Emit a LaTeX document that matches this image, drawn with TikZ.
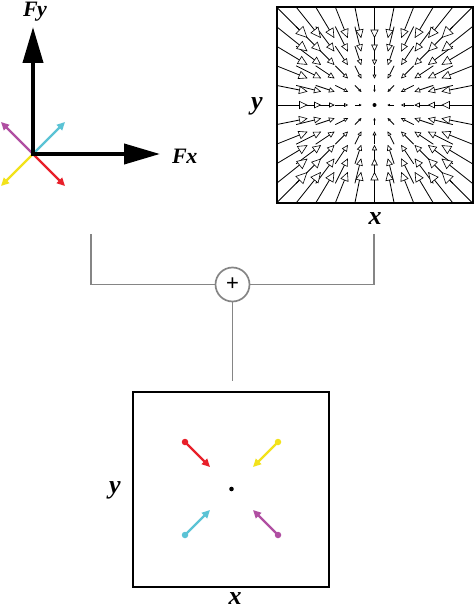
\documentclass[tikz,border=0pt]{standalone}
\usepackage{fontspec}
\setmainfont{Liberation Serif}
\setsansfont{Liberation Sans}
\usetikzlibrary{arrows.meta}

\definecolor{fred}{HTML}{E8202A}
\definecolor{fyellow}{HTML}{F2E21B}
\definecolor{fcyan}{HTML}{5BC3D5}
\definecolor{fmagenta}{HTML}{B04FA2}
\definecolor{wiregray}{HTML}{858585}

\tikzset{
  axis/.style={line width=4pt, -{Triangle[length=36pt,width=20pt]}},
  force/.style={line width=2.2pt, -{Triangle[length=8pt,width=7.5pt]}},
  lbl/.style={font=\fontsize{22}{22}\selectfont\bfseries\itshape, inner sep=0pt},
  axlbl/.style={font=\fontsize{26}{26}\selectfont\bfseries\itshape, inner sep=0pt},
  wire/.style={draw=wiregray, line width=1.7pt},
  panel/.style={draw, line width=2pt, inner sep=0pt, minimum width=196pt, minimum height=196pt},
  startdot/.style={circle, inner sep=0pt, minimum size=6.5pt},
}

\begin{document}
\begin{tikzpicture}[x=1pt,y=-1pt]
  \useasboundingbox (0,0) rectangle (474,612);

  % force directions
  \coordinate (O) at (33,154);
  \coordinate (tipM) at (1,122);
  \coordinate (tipC) at (65,122);
  \coordinate (tipY) at (1,186);
  \coordinate (tipR) at (65,186);
  \draw[force, fmagenta] (O) -- (tipM);
  \draw[force, fcyan] (O) -- (tipC);
  \draw[force, fyellow] (O) -- (tipY);
  \draw[force, fred] (O) -- (tipR);

  % axes
  \coordinate (tipFy) at (33,27);
  \coordinate (tipFx) at (160,154);
  \draw[axis] ([xshift=-2pt]O) -- (tipFx);
  \draw[axis] ([yshift=2pt]O) -- (tipFy);
  \node[lbl, anchor=base] (Fy) at (35,17) {F\kern-0.5pt y};
  \node[lbl, anchor=west] (Fx) at (172,156) {F\kern-0.5pt x};

  % field panel
  \node[panel] (field) at (374.5,105) {};
  \begin{scope}[shift={(field.center)}]
    \clip (-98,-98) rectangle (98,98);
    \foreach \i in {-5,...,5}{
      \foreach \j in {-5,...,5}{
        \ifnum\numexpr\i*\i+\j*\j\relax>0
          \draw[line width=0.8pt] ({19.6*(\i)},{19.6*(\j)}) -- ({13.52*(\i)},{13.52*(\j)});
        \fi
      }
    }
    \foreach \i in {-5,...,5}{
      \foreach \j in {-5,...,5}{
        \ifnum\numexpr\i*\i+\j*\j\relax>0
          \filldraw[fill=white, line width=0.6pt]
            ({15.0*(\i)-0.72*(\j)},{15.0*(\j)+0.72*(\i)})
            -- ({13.52*(\i)},{13.52*(\j)})
            -- ({15.0*(\i)+0.72*(\j)},{15.0*(\j)-0.72*(\i)}) -- cycle;
        \fi
      }
    }
    \fill (0,0) circle (2pt);
  \end{scope}
  \node[panel] at (field.center) {};
  \node[axlbl] (fy) at (257,106) {y};
  \node[axlbl] (fx) at (375,219) {x};

  % summation
  \node[circle, wire, minimum size=34pt, inner sep=0pt,
        font=\sffamily\fontsize{22}{22}\selectfont] (sum) at (232.5,284.5) {+};
  \coordinate (inL) at (91,234);
  \coordinate (inR) at (374,234);
  \coordinate (out) at (232.5,381);
  \draw[wire] (inL) |- (sum);
  \draw[wire] (inR) |- (sum);
  \draw[wire] (sum) -- (out);

  % result panel
  \node[panel, minimum height=195pt] (result) at (231,489.5) {};
  \fill (231.5,489) circle (2.3pt);
  \node[axlbl] (ry) at (115,490) {y};
  \node[axlbl] (rx) at (235,599) {x};

  \node[startdot, fill=fred] (r0) at (185,442) {};
  \node[startdot, fill=fyellow] (y0) at (278,442) {};
  \node[startdot, fill=fcyan] (c0) at (185,535) {};
  \node[startdot, fill=fmagenta] (m0) at (278,535) {};
  \coordinate (r1) at (210,467);
  \coordinate (y1) at (253,467);
  \coordinate (c1) at (210,510);
  \coordinate (m1) at (253,510);
  \draw[force, fred] (r0.center) -- (r1);
  \draw[force, fyellow] (y0.center) -- (y1);
  \draw[force, fcyan] (c0.center) -- (c1);
  \draw[force, fmagenta] (m0.center) -- (m1);
\end{tikzpicture}
\end{document}
